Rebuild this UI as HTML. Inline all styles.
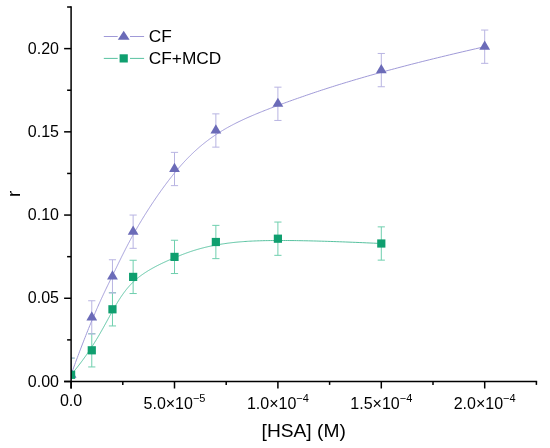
<!DOCTYPE html>
<html><head><meta charset="utf-8"><style>
html,body{margin:0;padding:0;background:#fff;}
svg{display:block;will-change:transform;font-family:"Liberation Sans",sans-serif;}
</style></head><body>
<svg width="550" height="448" viewBox="0 0 550 448" font-family="Liberation Sans, sans-serif">
<rect width="550" height="448" fill="#fff"/>
<defs><clipPath id="c"><rect x="71.1" y="0" width="480" height="381.5"/></clipPath></defs>
<g clip-path="url(#c)">
<path d="M71.10,358.16 V391.44 M67.50,358.16 H74.70 M67.50,391.44 H74.70" stroke="#6fcfae" stroke-width="1" fill="none"/>
<path d="M91.78,333.66 V366.94 M88.18,333.66 H95.38 M88.18,366.94 H95.38" stroke="#6fcfae" stroke-width="1" fill="none"/>
<path d="M112.46,292.66 V325.94 M108.86,292.66 H116.06 M108.86,325.94 H116.06" stroke="#6fcfae" stroke-width="1" fill="none"/>
<path d="M133.14,260.26 V293.54 M129.54,260.26 H136.74 M129.54,293.54 H136.74" stroke="#6fcfae" stroke-width="1" fill="none"/>
<path d="M174.50,240.26 V273.54 M170.90,240.26 H178.10 M170.90,273.54 H178.10" stroke="#6fcfae" stroke-width="1" fill="none"/>
<path d="M215.86,225.36 V258.64 M212.26,225.36 H219.46 M212.26,258.64 H219.46" stroke="#6fcfae" stroke-width="1" fill="none"/>
<path d="M277.90,222.06 V255.34 M274.30,222.06 H281.50 M274.30,255.34 H281.50" stroke="#6fcfae" stroke-width="1" fill="none"/>
<path d="M381.30,226.86 V260.14 M377.70,226.86 H384.90 M377.70,260.14 H384.90" stroke="#6fcfae" stroke-width="1" fill="none"/>
<path d="M71.10,357.96 V391.24 M67.50,357.96 H74.70 M67.50,391.24 H74.70" stroke="#b8b4e2" stroke-width="1" fill="none"/>
<path d="M91.78,300.76 V334.04 M88.18,300.76 H95.38 M88.18,334.04 H95.38" stroke="#b8b4e2" stroke-width="1" fill="none"/>
<path d="M112.46,259.76 V293.04 M108.86,259.76 H116.06 M108.86,293.04 H116.06" stroke="#b8b4e2" stroke-width="1" fill="none"/>
<path d="M133.14,215.06 V248.34 M129.54,215.06 H136.74 M129.54,248.34 H136.74" stroke="#b8b4e2" stroke-width="1" fill="none"/>
<path d="M174.50,152.36 V185.64 M170.90,152.36 H178.10 M170.90,185.64 H178.10" stroke="#b8b4e2" stroke-width="1" fill="none"/>
<path d="M215.86,113.86 V147.14 M212.26,113.86 H219.46 M212.26,147.14 H219.46" stroke="#b8b4e2" stroke-width="1" fill="none"/>
<path d="M277.90,87.16 V120.44 M274.30,87.16 H281.50 M274.30,120.44 H281.50" stroke="#b8b4e2" stroke-width="1" fill="none"/>
<path d="M381.30,53.46 V86.74 M377.70,53.46 H384.90 M377.70,86.74 H384.90" stroke="#b8b4e2" stroke-width="1" fill="none"/>
<path d="M484.70,30.06 V63.34 M481.10,30.06 H488.30 M481.10,63.34 H488.30" stroke="#b8b4e2" stroke-width="1" fill="none"/>
<path d="M71.10,374.60 L72.03,372.04 L72.94,369.54 L73.84,367.08 L74.72,364.67 L75.59,362.31 L76.45,359.99 L77.30,357.72 L78.13,355.49 L78.95,353.31 L79.76,351.17 L80.55,349.07 L81.34,347.02 L82.11,345.01 L82.87,343.04 L83.61,341.11 L84.35,339.21 L85.08,337.36 L85.79,335.55 L86.49,333.77 L87.19,332.03 L87.87,330.32 L88.54,328.65 L89.20,327.02 L89.86,325.42 L90.50,323.85 L91.13,322.31 L91.75,320.81 L92.37,319.34 L92.97,317.89 L93.57,316.48 L94.15,315.10 L94.73,313.74 L95.30,312.42 L95.86,311.11 L96.42,309.84 L96.96,308.59 L97.50,307.37 L98.03,306.17 L98.55,304.99 L99.07,303.84 L99.58,302.71 L100.08,301.60 L100.58,300.51 L101.06,299.44 L101.55,298.39 L102.02,297.36 L102.49,296.35 L102.96,295.35 L103.42,294.37 L103.87,293.41 L104.32,292.46 L104.77,291.53 L105.20,290.61 L105.64,289.70 L106.07,288.81 L106.49,287.93 L106.91,287.06 L107.33,286.20 L107.74,285.34 L108.15,284.50 L108.56,283.67 L108.96,282.84 L109.36,282.02 L109.76,281.21 L110.15,280.40 L110.54,279.60 L110.93,278.80 L111.32,278.01 L111.70,277.22 L112.08,276.43 L112.46,275.64 L112.84,274.86 L113.22,274.08 L113.59,273.31 L113.97,272.54 L114.34,271.77 L114.71,271.00 L115.08,270.24 L115.45,269.48 L115.81,268.72 L116.18,267.96 L116.55,267.21 L116.91,266.45 L117.28,265.70 L117.64,264.95 L118.00,264.21 L118.37,263.46 L118.73,262.71 L119.09,261.97 L119.45,261.23 L119.82,260.49 L120.18,259.75 L120.54,259.01 L120.91,258.27 L121.27,257.53 L121.64,256.79 L122.00,256.05 L122.37,255.32 L122.74,254.58 L123.11,253.84 L123.48,253.10 L123.85,252.36 L124.22,251.63 L124.60,250.89 L124.97,250.15 L125.35,249.41 L125.73,248.67 L126.11,247.92 L126.50,247.18 L126.88,246.44 L127.27,245.69 L127.66,244.94 L128.05,244.19 L128.45,243.44 L128.85,242.69 L129.25,241.94 L129.65,241.18 L130.06,240.42 L130.47,239.66 L130.88,238.90 L131.30,238.13 L131.72,237.36 L132.14,236.59 L132.57,235.82 L133.00,235.04 L133.43,234.26 L133.87,233.48 L134.31,232.69 L134.76,231.90 L135.21,231.10 L135.66,230.31 L136.12,229.51 L136.59,228.70 L137.06,227.89 L137.53,227.08 L138.01,226.26 L138.49,225.44 L138.98,224.61 L139.47,223.79 L139.96,222.96 L140.46,222.12 L140.97,221.28 L141.47,220.45 L141.99,219.60 L142.50,218.76 L143.02,217.91 L143.54,217.06 L144.07,216.21 L144.60,215.36 L145.13,214.50 L145.67,213.64 L146.21,212.79 L146.76,211.93 L147.31,211.07 L147.86,210.20 L148.41,209.34 L148.97,208.48 L149.53,207.61 L150.09,206.75 L150.66,205.88 L151.22,205.02 L151.79,204.15 L152.37,203.29 L152.94,202.42 L153.52,201.56 L154.11,200.70 L154.69,199.83 L155.27,198.97 L155.86,198.11 L156.45,197.25 L157.05,196.39 L157.64,195.53 L158.24,194.67 L158.83,193.82 L159.43,192.97 L160.04,192.12 L160.64,191.27 L161.24,190.42 L161.85,189.58 L162.46,188.73 L163.07,187.90 L163.68,187.06 L164.29,186.23 L164.90,185.40 L165.52,184.57 L166.13,183.75 L166.75,182.93 L167.37,182.11 L167.98,181.30 L168.60,180.49 L169.22,179.68 L169.84,178.88 L170.46,178.09 L171.08,177.30 L171.70,176.51 L172.32,175.73 L172.95,174.95 L173.57,174.18 L174.19,173.41 L174.81,172.65 L175.43,171.90 L176.06,171.15 L176.68,170.40 L177.30,169.66 L177.92,168.93 L178.55,168.20 L179.17,167.48 L179.79,166.76 L180.42,166.05 L181.04,165.34 L181.67,164.63 L182.30,163.94 L182.93,163.24 L183.55,162.55 L184.18,161.87 L184.81,161.19 L185.45,160.52 L186.08,159.85 L186.72,159.18 L187.35,158.52 L187.99,157.87 L188.63,157.22 L189.27,156.57 L189.91,155.93 L190.55,155.29 L191.20,154.66 L191.85,154.03 L192.50,153.41 L193.15,152.79 L193.80,152.17 L194.46,151.56 L195.12,150.95 L195.78,150.35 L196.44,149.75 L197.10,149.16 L197.77,148.56 L198.44,147.98 L199.11,147.39 L199.79,146.81 L200.47,146.24 L201.15,145.67 L201.83,145.10 L202.52,144.53 L203.21,143.97 L203.90,143.41 L204.60,142.86 L205.30,142.31 L206.00,141.76 L206.71,141.22 L207.42,140.68 L208.13,140.14 L208.85,139.61 L209.57,139.08 L210.29,138.55 L211.02,138.03 L211.75,137.51 L212.49,136.99 L213.23,136.48 L213.98,135.97 L214.72,135.46 L215.48,134.95 L216.23,134.45 L217.00,133.95 L217.76,133.45 L218.53,132.96 L219.31,132.47 L220.09,131.98 L220.87,131.49 L221.66,131.01 L222.46,130.53 L223.26,130.05 L224.06,129.57 L224.88,129.09 L225.70,128.62 L226.52,128.15 L227.36,127.68 L228.20,127.21 L229.04,126.74 L229.90,126.27 L230.76,125.81 L231.63,125.35 L232.51,124.88 L233.40,124.42 L234.30,123.96 L235.20,123.50 L236.12,123.03 L237.04,122.57 L237.98,122.11 L238.92,121.65 L239.88,121.19 L240.85,120.73 L241.82,120.27 L242.81,119.81 L243.81,119.34 L244.82,118.88 L245.84,118.42 L246.88,117.95 L247.92,117.48 L248.98,117.02 L250.05,116.55 L251.14,116.08 L252.24,115.60 L253.35,115.13 L254.48,114.66 L255.62,114.18 L256.77,113.70 L257.94,113.22 L259.12,112.73 L260.32,112.25 L261.54,111.76 L262.76,111.27 L264.01,110.77 L265.27,110.28 L266.55,109.78 L267.84,109.27 L269.15,108.77 L270.48,108.26 L271.82,107.74 L273.19,107.22 L274.57,106.70 L275.96,106.18 L277.38,105.65 L278.81,105.12 L280.27,104.58 L281.74,104.04 L283.23,103.49 L284.74,102.94 L286.27,102.39 L287.82,101.83 L289.39,101.26 L290.98,100.69 L292.60,100.11 L294.23,99.53 L295.88,98.95 L297.56,98.36 L299.26,97.76 L300.98,97.16 L302.73,96.55 L304.50,95.93 L306.30,95.31 L308.12,94.69 L309.98,94.06 L311.86,93.42 L313.76,92.78 L315.70,92.13 L317.67,91.47 L319.67,90.81 L321.70,90.14 L323.77,89.47 L325.86,88.79 L327.99,88.10 L330.16,87.41 L332.36,86.71 L334.60,86.00 L336.87,85.29 L339.18,84.57 L341.53,83.85 L343.92,83.12 L346.35,82.38 L348.82,81.63 L351.34,80.88 L353.89,80.12 L356.48,79.35 L359.12,78.58 L361.81,77.80 L364.54,77.01 L367.31,76.22 L370.13,75.42 L373.00,74.61 L375.92,73.79 L378.88,72.97 L381.90,72.14 L384.96,71.30 L388.08,70.45 L391.25,69.60 L394.47,68.74 L397.74,67.87 L401.07,66.99 L404.45,66.11 L407.89,65.21 L411.38,64.31 L414.93,63.40 L418.54,62.49 L422.21,61.56 L425.93,60.63 L429.72,59.69 L433.56,58.74 L437.47,57.79 L441.44,56.82 L445.47,55.85 L449.56,54.87 L453.72,53.87 L457.95,52.88 L462.24,51.87 L466.59,50.85 L471.02,49.83 L475.51,48.79 L480.07,47.75 L484.70,46.70" stroke="#a09ad8" stroke-width="1" fill="none"/>
<path d="M71.10,374.80 L71.87,373.88 L72.64,372.97 L73.39,372.05 L74.13,371.15 L74.87,370.24 L75.59,369.34 L76.31,368.45 L77.02,367.55 L77.71,366.66 L78.40,365.78 L79.09,364.90 L79.76,364.02 L80.42,363.15 L81.08,362.28 L81.72,361.41 L82.36,360.55 L82.99,359.69 L83.61,358.84 L84.23,357.99 L84.84,357.15 L85.44,356.30 L86.03,355.47 L86.61,354.63 L87.19,353.80 L87.76,352.98 L88.32,352.16 L88.87,351.34 L89.42,350.52 L89.96,349.72 L90.50,348.91 L91.02,348.11 L91.55,347.31 L92.06,346.52 L92.57,345.73 L93.07,344.94 L93.57,344.16 L94.06,343.39 L94.54,342.61 L95.02,341.84 L95.49,341.08 L95.96,340.32 L96.42,339.56 L96.87,338.81 L97.32,338.06 L97.77,337.32 L98.21,336.58 L98.64,335.85 L99.07,335.12 L99.49,334.39 L99.91,333.67 L100.33,332.95 L100.74,332.24 L101.15,331.53 L101.55,330.82 L101.95,330.12 L102.34,329.42 L102.73,328.73 L103.11,328.04 L103.49,327.36 L103.87,326.68 L104.25,326.01 L104.62,325.34 L104.99,324.67 L105.35,324.01 L105.71,323.35 L106.07,322.70 L106.42,322.05 L106.77,321.41 L107.12,320.77 L107.47,320.13 L107.81,319.50 L108.15,318.88 L108.49,318.26 L108.83,317.64 L109.16,317.03 L109.49,316.42 L109.82,315.82 L110.15,315.22 L110.48,314.62 L110.80,314.03 L111.12,313.45 L111.45,312.87 L111.77,312.29 L112.08,311.72 L112.40,311.15 L112.72,310.59 L113.03,310.03 L113.34,309.48 L113.66,308.93 L113.97,308.38 L114.28,307.84 L114.59,307.30 L114.89,306.77 L115.20,306.24 L115.51,305.72 L115.81,305.20 L116.12,304.68 L116.42,304.17 L116.73,303.66 L117.03,303.15 L117.34,302.65 L117.64,302.15 L117.94,301.66 L118.24,301.17 L118.55,300.69 L118.85,300.21 L119.15,299.73 L119.45,299.25 L119.76,298.78 L120.06,298.31 L120.36,297.85 L120.67,297.39 L120.97,296.93 L121.27,296.48 L121.58,296.03 L121.88,295.59 L122.19,295.14 L122.49,294.70 L122.80,294.27 L123.11,293.84 L123.42,293.41 L123.73,292.98 L124.04,292.56 L124.35,292.14 L124.66,291.72 L124.97,291.31 L125.29,290.89 L125.60,290.49 L125.92,290.08 L126.24,289.68 L126.56,289.28 L126.88,288.89 L127.20,288.49 L127.53,288.10 L127.86,287.71 L128.18,287.33 L128.51,286.95 L128.85,286.57 L129.18,286.19 L129.51,285.82 L129.85,285.45 L130.19,285.08 L130.53,284.71 L130.88,284.35 L131.23,283.98 L131.57,283.63 L131.93,283.27 L132.28,282.91 L132.64,282.56 L133.00,282.21 L133.36,281.87 L133.72,281.52 L134.09,281.18 L134.46,280.84 L134.83,280.50 L135.21,280.16 L135.59,279.83 L135.97,279.49 L136.35,279.16 L136.74,278.84 L137.13,278.51 L137.53,278.18 L137.93,277.86 L138.33,277.54 L138.73,277.22 L139.14,276.90 L139.55,276.59 L139.96,276.28 L140.38,275.96 L140.80,275.65 L141.22,275.35 L141.64,275.04 L142.07,274.74 L142.50,274.43 L142.93,274.13 L143.37,273.83 L143.81,273.54 L144.25,273.24 L144.69,272.95 L145.13,272.65 L145.58,272.36 L146.03,272.07 L146.48,271.79 L146.94,271.50 L147.40,271.22 L147.86,270.93 L148.32,270.65 L148.78,270.37 L149.25,270.09 L149.71,269.82 L150.18,269.54 L150.66,269.27 L151.13,269.00 L151.60,268.73 L152.08,268.46 L152.56,268.19 L153.04,267.92 L153.52,267.66 L154.01,267.40 L154.49,267.13 L154.98,266.87 L155.47,266.61 L155.96,266.36 L156.45,266.10 L156.95,265.84 L157.44,265.59 L157.94,265.34 L158.44,265.09 L158.93,264.83 L159.43,264.59 L159.94,264.34 L160.44,264.09 L160.94,263.85 L161.45,263.60 L161.95,263.36 L162.46,263.12 L162.97,262.88 L163.47,262.64 L163.98,262.40 L164.49,262.16 L165.01,261.92 L165.52,261.69 L166.03,261.45 L166.54,261.22 L167.06,260.99 L167.57,260.76 L168.09,260.53 L168.60,260.30 L169.12,260.07 L169.63,259.84 L170.15,259.62 L170.67,259.39 L171.18,259.17 L171.70,258.94 L172.22,258.72 L172.74,258.50 L173.26,258.28 L173.77,258.06 L174.29,257.84 L174.81,257.62 L175.33,257.40 L175.85,257.18 L176.37,256.97 L176.89,256.75 L177.41,256.54 L177.93,256.32 L178.45,256.11 L178.97,255.90 L179.49,255.69 L180.01,255.48 L180.54,255.27 L181.06,255.06 L181.59,254.85 L182.12,254.65 L182.65,254.44 L183.18,254.24 L183.71,254.03 L184.25,253.83 L184.79,253.63 L185.33,253.43 L185.87,253.23 L186.41,253.03 L186.95,252.83 L187.50,252.64 L188.05,252.44 L188.61,252.25 L189.16,252.05 L189.72,251.86 L190.28,251.67 L190.85,251.48 L191.41,251.29 L191.98,251.10 L192.56,250.92 L193.14,250.73 L193.72,250.54 L194.30,250.36 L194.89,250.18 L195.48,250.00 L196.08,249.82 L196.68,249.64 L197.28,249.46 L197.89,249.28 L198.50,249.11 L199.12,248.93 L199.74,248.76 L200.37,248.59 L201.00,248.42 L201.64,248.25 L202.28,248.08 L202.92,247.92 L203.57,247.75 L204.23,247.59 L204.89,247.42 L205.56,247.26 L206.23,247.10 L206.91,246.94 L207.59,246.79 L208.28,246.63 L208.98,246.48 L209.68,246.32 L210.39,246.17 L211.10,246.02 L211.83,245.87 L212.55,245.72 L213.29,245.58 L214.03,245.43 L214.77,245.29 L215.53,245.15 L216.29,245.01 L217.06,244.87 L217.83,244.73 L218.62,244.59 L219.41,244.46 L220.20,244.33 L221.01,244.19 L221.82,244.06 L222.64,243.94 L223.47,243.81 L224.31,243.68 L225.15,243.56 L226.01,243.44 L226.87,243.32 L227.74,243.20 L228.63,243.08 L229.52,242.97 L230.43,242.85 L231.35,242.74 L232.29,242.63 L233.24,242.52 L234.20,242.42 L235.19,242.31 L236.19,242.21 L237.20,242.12 L238.24,242.02 L239.29,241.93 L240.37,241.83 L241.46,241.75 L242.58,241.66 L243.72,241.58 L244.88,241.49 L246.07,241.42 L247.28,241.34 L248.51,241.27 L249.77,241.20 L251.06,241.13 L252.38,241.07 L253.72,241.01 L255.10,240.95 L256.50,240.90 L257.93,240.84 L259.40,240.80 L260.90,240.75 L262.43,240.71 L263.99,240.67 L265.59,240.64 L267.22,240.61 L268.89,240.58 L270.60,240.56 L272.34,240.54 L274.12,240.52 L275.94,240.51 L277.80,240.51 L279.70,240.50 L281.64,240.50 L283.62,240.51 L285.65,240.52 L287.71,240.53 L289.83,240.55 L291.98,240.57 L294.19,240.59 L296.44,240.62 L298.73,240.66 L301.08,240.70 L303.47,240.74 L305.91,240.79 L308.41,240.84 L310.95,240.90 L313.54,240.96 L316.19,241.03 L318.89,241.10 L321.65,241.18 L324.46,241.26 L327.32,241.35 L330.24,241.45 L333.22,241.54 L336.25,241.65 L339.35,241.76 L342.50,241.87 L345.71,241.99 L348.99,242.12 L352.32,242.25 L355.72,242.38 L359.18,242.52 L362.70,242.67 L366.29,242.83 L369.94,242.99 L373.66,243.15 L377.45,243.32 L381.30,243.50" stroke="#58c2a0" stroke-width="1" fill="none"/>
<path d="M71.10,368.47 L76.50,377.67 L65.70,377.67 Z" fill="#6b6bb8"/><path d="M91.78,311.27 L97.18,320.47 L86.38,320.47 Z" fill="#6b6bb8"/><path d="M112.46,270.27 L117.86,279.47 L107.06,279.47 Z" fill="#6b6bb8"/><path d="M133.14,225.57 L138.54,234.77 L127.74,234.77 Z" fill="#6b6bb8"/><path d="M174.50,162.87 L179.90,172.07 L169.10,172.07 Z" fill="#6b6bb8"/><path d="M215.86,124.37 L221.26,133.57 L210.46,133.57 Z" fill="#6b6bb8"/><path d="M277.90,97.67 L283.30,106.87 L272.50,106.87 Z" fill="#6b6bb8"/><path d="M381.30,63.97 L386.70,73.17 L375.90,73.17 Z" fill="#6b6bb8"/><path d="M484.70,40.57 L490.10,49.77 L479.30,49.77 Z" fill="#6b6bb8"/>
<rect x="67.00" y="370.70" width="8.2" height="8.2" fill="#0f9f6f"/><rect x="87.68" y="346.20" width="8.2" height="8.2" fill="#0f9f6f"/><rect x="108.36" y="305.20" width="8.2" height="8.2" fill="#0f9f6f"/><rect x="129.04" y="272.80" width="8.2" height="8.2" fill="#0f9f6f"/><rect x="170.40" y="252.80" width="8.2" height="8.2" fill="#0f9f6f"/><rect x="211.76" y="237.90" width="8.2" height="8.2" fill="#0f9f6f"/><rect x="273.80" y="234.60" width="8.2" height="8.2" fill="#0f9f6f"/><rect x="377.20" y="239.40" width="8.2" height="8.2" fill="#0f9f6f"/>
</g>
<path d="M71.1,6.26 V388.50" stroke="#000" stroke-width="1.5"/>
<path d="M64.10,381.5 H537.15" stroke="#000" stroke-width="1.5"/>
<path d="M64.10,381.50 H71.1" stroke="#000" stroke-width="1.5"/>
<path d="M67.10,339.89 H71.1" stroke="#000" stroke-width="1.5"/>
<path d="M64.10,298.28 H71.1" stroke="#000" stroke-width="1.5"/>
<path d="M67.10,256.67 H71.1" stroke="#000" stroke-width="1.5"/>
<path d="M64.10,215.06 H71.1" stroke="#000" stroke-width="1.5"/>
<path d="M67.10,173.45 H71.1" stroke="#000" stroke-width="1.5"/>
<path d="M64.10,131.84 H71.1" stroke="#000" stroke-width="1.5"/>
<path d="M67.10,90.23 H71.1" stroke="#000" stroke-width="1.5"/>
<path d="M64.10,48.62 H71.1" stroke="#000" stroke-width="1.5"/>
<path d="M67.10,7.01 H71.1" stroke="#000" stroke-width="1.5"/>
<path d="M71.10,381.5 V388.50" stroke="#000" stroke-width="1.5"/>
<path d="M122.80,381.5 V384.90" stroke="#000" stroke-width="1.5"/>
<path d="M174.50,381.5 V388.50" stroke="#000" stroke-width="1.5"/>
<path d="M226.20,381.5 V384.90" stroke="#000" stroke-width="1.5"/>
<path d="M277.90,381.5 V388.50" stroke="#000" stroke-width="1.5"/>
<path d="M329.60,381.5 V384.90" stroke="#000" stroke-width="1.5"/>
<path d="M381.30,381.5 V388.50" stroke="#000" stroke-width="1.5"/>
<path d="M433.00,381.5 V384.90" stroke="#000" stroke-width="1.5"/>
<path d="M484.70,381.5 V388.50" stroke="#000" stroke-width="1.5"/>
<path d="M536.40,381.5 V384.90" stroke="#000" stroke-width="1.5"/>
<text x="59.0" y="386.50" text-anchor="end" font-size="16">0.00</text>
<text x="59.0" y="303.28" text-anchor="end" font-size="16">0.05</text>
<text x="59.0" y="220.06" text-anchor="end" font-size="16">0.10</text>
<text x="59.0" y="136.84" text-anchor="end" font-size="16">0.15</text>
<text x="59.0" y="53.62" text-anchor="end" font-size="16">0.20</text>
<text x="71.10" y="406.3" text-anchor="middle" font-size="16">0.0</text>
<text x="174.50" y="408.6" text-anchor="middle" font-size="16">5.0×10<tspan font-size="11" dy="-6.4">−5</tspan></text>
<text x="277.90" y="408.6" text-anchor="middle" font-size="16">1.0×10<tspan font-size="11" dy="-6.4">−4</tspan></text>
<text x="381.30" y="408.6" text-anchor="middle" font-size="16">1.5×10<tspan font-size="11" dy="-6.4">−4</tspan></text>
<text x="484.70" y="408.6" text-anchor="middle" font-size="16">2.0×10<tspan font-size="11" dy="-6.4">−4</tspan></text>
<text x="303.7" y="436.8" text-anchor="middle" font-size="19.2">[HSA] (M)</text>
<text transform="translate(19.6,193.9) rotate(-90)" text-anchor="middle" font-size="19.2">r</text>
<path d="M103.8,36.5 H117.7 M130,36.5 H144.1" stroke="#a09ad8" stroke-width="1"/>
<path d="M123.70,30.67 L129.60,39.87 L117.80,39.87 Z" fill="#6b6bb8"/>
<path d="M103.8,58.4 H117.7 M130,58.4 H144.1" stroke="#58c2a0" stroke-width="1"/>
<rect x="119.60" y="54.30" width="8.2" height="8.2" fill="#0f9f6f"/>
<text x="148.8" y="42.3" font-size="17.3">CF</text>
<text x="148.8" y="64.3" font-size="17.3">CF+MCD</text>
</svg>
</body></html>
